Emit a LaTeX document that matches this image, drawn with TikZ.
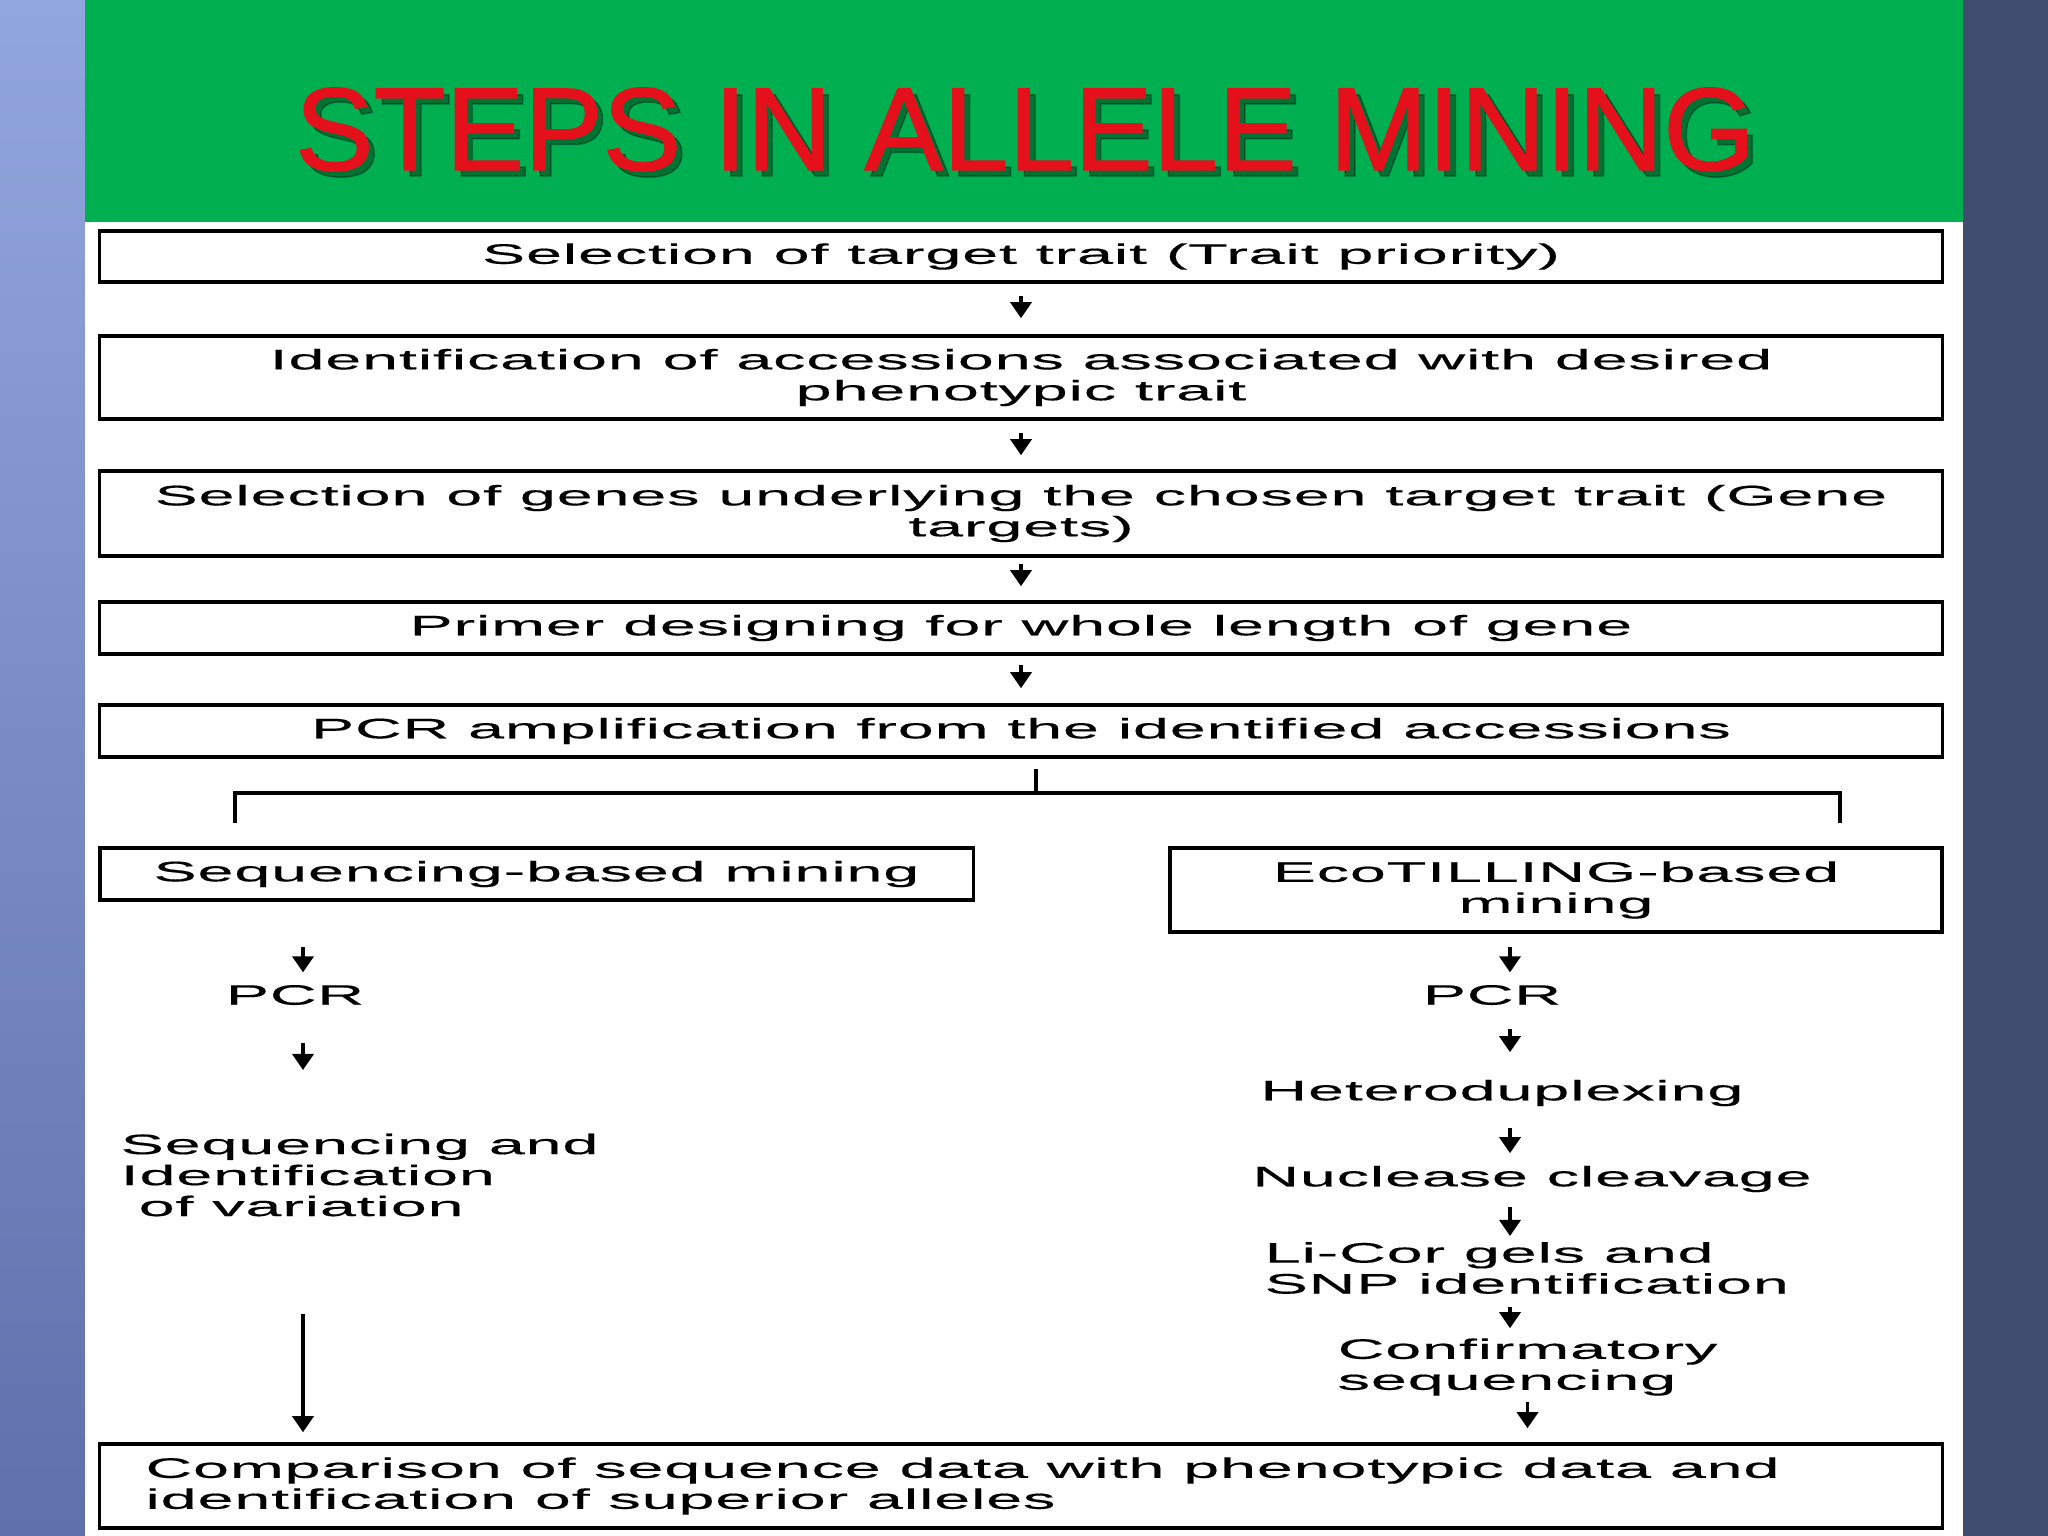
\documentclass[tikz,border=0pt]{standalone}
\usepackage{fontspec}
\setmainfont{Liberation Sans}
\newfontfamily\flowfont[FakeStretch=2.3,LetterSpace=3,FakeBold=0.4]{Liberation Sans}
\newfontfamily\titlefont[FakeBold=1.2]{Liberation Sans}
\usetikzlibrary{arrows.meta,calc}
\definecolor{slidegreen}{RGB}{0,176,80}
\definecolor{titlered}{RGB}{228,16,28}
\definecolor{bandtop}{RGB}{146,166,222}
\definecolor{bandbot}{RGB}{96,112,172}
\definecolor{bandright}{RGB}{64,76,112}
\tikzset{
  box/.style={draw, line width=1pt, fill=white, inner sep=0pt, align=center,
    font=\flowfont\fontsize{8pt}{8.8pt}\selectfont},
  lbl/.style={inner sep=0pt, align=left, font=\flowfont\fontsize{8pt}{8.8pt}\selectfont},
  arrow/.style={-{Triangle[length=1.6mm,width=2.1mm]}, line width=1pt},
  gap/.style 2 args={shorten <=#1, shorten >=#2},
  bracket/.style={line width=1.1pt},
  headline/.style={inner sep=0pt, anchor=base, font=\titlefont\fontsize{33.5pt}{36pt}\selectfont},
}

\begin{document}
\begin{tikzpicture}[x=0.01cm, y=-0.01cm]
\useasboundingbox (0,0) rectangle (2048,1536);

% --- slide background ---
\shade[top color=bandtop, bottom color=bandbot] (0,0) rectangle (85,1536);
\fill[bandright] (1963,0) rectangle (2048,1536);
\fill[slidegreen] (85,0) rectangle (1963,222);
\fill[white] (85,222) rectangle (1963,1536);

% --- title ---
\node[headline, text=black, opacity=0.35] (titleshade) at (1031,176) {STEPS IN ALLELE MINING};
\node[headline, text=titlered] (title) at (1025,170) {STEPS IN ALLELE MINING};

% --- common steps ---
\node[box, minimum width=18.42cm, minimum height=0.51cm] (trait) at (1021,256.5)
  {Selection of target trait (Trait priority)};
\node[box, minimum width=18.42cm, minimum height=0.83cm] (access) at (1021,377.5)
  {Identification of accessions associated with desired\\phenotypic trait};
\node[box, minimum width=18.42cm, minimum height=0.85cm] (genes) at (1021,513.5)
  {Selection of genes underlying the chosen target trait (Gene\\targets)};
\node[box, minimum width=18.42cm, minimum height=0.52cm] (primer) at (1021,628)
  {Primer designing for whole length of gene};
\node[box, minimum width=18.42cm, minimum height=0.52cm] (pcramp) at (1021,731)
  {PCR amplification from the identified accessions};

\draw[arrow, gap={1.2mm}{1.6mm}] (trait) -- (access);
\draw[arrow, gap={1.2mm}{1.4mm}] (access) -- (genes);
\draw[arrow, gap={0.6mm}{1.4mm}] (genes) -- (primer);
\draw[arrow, gap={0.9mm}{1.5mm}] (primer) -- (pcramp);

% --- fork into the two routes ---
\coordinate (fork) at (1036,793);
\coordinate (forkL) at (235,823);
\coordinate (forkR) at (1840,823);
\draw[bracket, shorten <=1mm] (pcramp.south -| fork) -- (fork);
\draw[bracket] (forkL) |- (fork) -| (forkR);

\node[box, minimum width=8.73cm, minimum height=0.52cm] (seqmine) at (536.5,874)
  {Sequencing-based mining};
\node[box, minimum width=7.72cm, minimum height=0.84cm] (ecomine) at (1556,890)
  {EcoTILLING-based\\mining};

% --- left route ---
\coordinate (lcol) at (303,0);
\node[lbl] (pcrL) at (295,995) {PCR};
\node[lbl, anchor=west] (seqvar) at (120,1175)
  {Sequencing and\\Identification\\\hspace*{0.18cm}of variation};

% --- right route ---
\coordinate (rcol) at (1510,0);
\node[lbl] (pcrR) at (1492,995) {PCR};
\node[lbl] (hetero) at (1502,1093) {Heteroduplexing};
\node[lbl] (nuclease) at (1532,1179) {Nuclease cleavage};
\node[lbl, anchor=west] (licor) at (1264,1268) {Li-Cor gels and\\SNP identification};
\node[lbl, anchor=west] (confirm) at (1337,1367) {Confirmatory\\sequencing};

% --- final step ---
\node[box, text width=17.5cm, inner xsep=0.46cm, minimum height=0.84cm, align=left] (compare) at (1021,1486)
  {\spaceskip=0pt \xspaceskip=0pt Comparison of sequence data with phenotypic data and\\identification of superior alleles};

\draw[arrow, gap={4.5mm}{1.2mm}] (seqmine.south -| lcol) -- (pcrL.north -| lcol);
\draw[arrow, gap={3.7mm}{6.3mm}] (pcrL.south -| lcol) -- (seqvar.north -| lcol);
\draw[arrow, gap={9.7mm}{1mm}] (seqvar.south -| lcol) -- (compare.north -| lcol);

\draw[arrow, gap={1.3mm}{1.2mm}] (ecomine.south -| rcol) -- (pcrR.north -| rcol);
\draw[arrow, gap={2.3mm}{2.7mm}] (pcrR.south -| rcol) -- (hetero.north -| rcol);
\draw[arrow, gap={2.1mm}{1.2mm}] (hetero.south -| rcol) -- (nuclease.north -| rcol);
\draw[arrow, gap={1.4mm}{0.55mm}] (nuclease.south -| rcol) -- (licor.north -| rcol);
\draw[arrow, gap={1.2mm}{0.95mm}] (licor.south -| rcol) -- (confirm.north -| rcol);
\draw[arrow, gap={0.6mm}{1.4mm}] (confirm.south) -- (compare.north -| confirm.south);

\end{tikzpicture}
\end{document}
